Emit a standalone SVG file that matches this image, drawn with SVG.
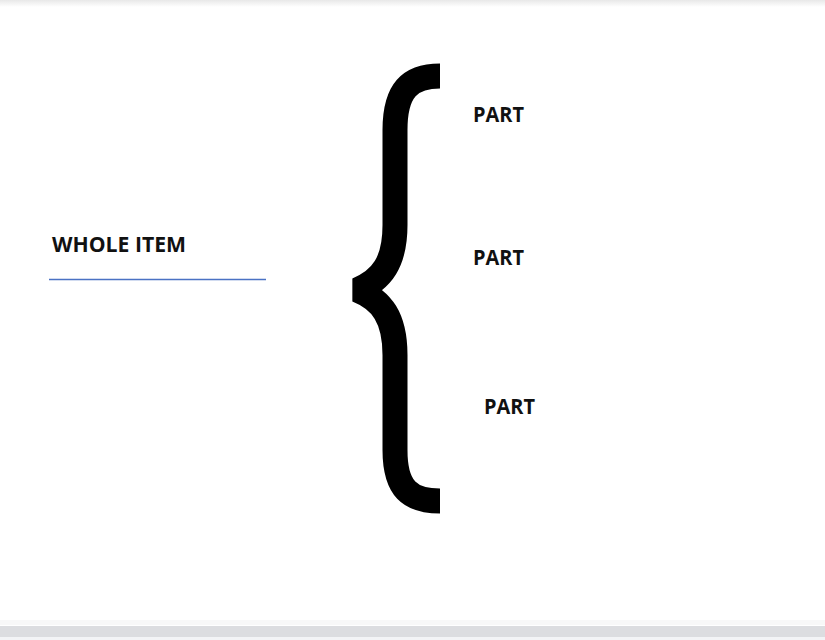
<svg xmlns="http://www.w3.org/2000/svg" width="825" height="640" viewBox="0 0 825 640">
<defs>
<style>
.lbl{font-family:"Open Sans","Liberation Sans",Arial,sans-serif;font-weight:bold;font-size:21px;fill:#111}
</style>
<linearGradient id="topg" x1="0" y1="0" x2="0" y2="1">
<stop offset="0" stop-color="#e8e8e8"/>
<stop offset="1" stop-color="#ffffff"/>
</linearGradient>
</defs>
<rect width="825" height="640" fill="#ffffff"/>
<rect x="0" y="0" width="825" height="7" fill="url(#topg)"/>
<rect x="0" y="620" width="825" height="5" fill="#f8f8f8"/>
<rect x="0" y="626" width="825" height="11" fill="#dcdde0"/>
<rect x="0" y="637" width="825" height="3" fill="#f3f4f6"/>
<g id="whole">
<text class="lbl" x="52" y="252" textLength="134" lengthAdjust="spacingAndGlyphs">WHOLE ITEM</text>
<line x1="49" y1="279.5" x2="266" y2="279.5" stroke="#4a72c4" stroke-width="1.3"/>
</g>
<g id="connectors">
<path id="brace" d="M440,76 C410,76 395,90 395,130 L395,225 C395,262 382,280 357,290 C382,300 395,318 395,355 L395,450 C395,489 410,501 440,501" fill="none" stroke="#000" stroke-width="25" stroke-linejoin="miter" stroke-miterlimit="2"/>
</g>
<g id="part1"><text class="lbl" x="473" y="122" textLength="51" lengthAdjust="spacingAndGlyphs">PART</text></g>
<g id="part2"><text class="lbl" x="473" y="265" textLength="51" lengthAdjust="spacingAndGlyphs">PART</text></g>
<g id="part3"><text class="lbl" x="484" y="414" textLength="51" lengthAdjust="spacingAndGlyphs">PART</text></g>
</svg>
